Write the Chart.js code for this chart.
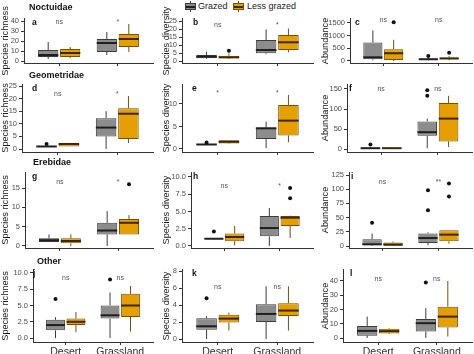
<!DOCTYPE html>
<html>
<head>
<meta charset="utf-8">
<script src="https://cdn.jsdelivr.net/npm/chart.js@4.4.1/dist/chart.umd.min.js"></script>
<style>
  html, body { margin: 0; padding: 0; background: #fff; }
  #wrap { position: relative; width: 474px; height: 354px; overflow: hidden; font-family: "Liberation Sans", Arial, sans-serif; }
  #wrap canvas { position: absolute; }
  .fam { position: absolute; font-weight: bold; font-size: 9px; line-height: 10px; color: #111; z-index: 2; }
  .ytitle { position: absolute; font-size: 9.2px; line-height: 11px; color: #1a1a1a; white-space: nowrap; transform: translate(-50%, -50%) rotate(-90deg); z-index: 2; }
  .key { position: absolute; top: 1px; width: 11px; height: 11px; }
  .key .wh { position: absolute; left: 5px; top: 0; width: 1px; height: 11px; }
  .key .bx { position: absolute; left: 0; top: 2px; width: 9px; height: 5px; border: 1px solid; }
  .key .md { position: absolute; left: 0; top: 2px; width: 9px; height: 2px; }
  .ktext { position: absolute; top: 1px; font-size: 9px; line-height: 11px; color: #222; }
</style>
</head>
<body>
<div id="wrap">
  <div class="key" style="left:185px"><div class="wh" style="background:#3c3c3c"></div><div class="bx" style="background:#8c8c8c;border-color:#3c3c3c"><div class="md" style="background:#1f1f1f"></div></div></div>
  <div class="ktext" style="left:198px">Grazed</div>
  <div class="key" style="left:233px"><div class="wh" style="background:#7a4f00"></div><div class="bx" style="background:#e69f00;border-color:#7a4f00"><div class="md" style="background:#3d2700"></div></div></div>
  <div class="ktext" style="left:247px">Less grazed</div>
</div>
<script>
const sites = ['Desert', 'Grassland'];
const groups = ['Grazed', 'Less grazed'];
const families = ['Noctuidae', 'Geometridae', 'Erebidae', 'Other'];
const measures = ['Species richness', 'Species diversity', 'Abundance'];
const letters = ['a', 'b', 'c', 'd', 'e', 'f', 'g', 'h', 'i', 'j', 'k', 'l'];

// box stats per site: [whisker low, Q1, median, Q3, whisker high]
const aG = [[2, 4, 6, 11, 19], [6, 9, 18, 22, 29]];
const aL = [[3, 4, 8, 12, 14], [9, 14, 22, 27, 37]];
const aOutG = [[], []];
const aOutL = [[], []];

const bG = [[1.2, 1.7, 2.7, 3.7, 5.8], [4.2, 4.8, 6.9, 13.1, 19.8]];
const bL = [[1.2, 1.7, 2.3, 3.3, 4.8], [5.4, 6.9, 11.7, 16.2, 20.4]];
const bOutG = [[], []];
const bOutL = [[6.4], []];

const cG = [[27, 66, 146, 730, 1208], [20, 50, 70, 90, 140]];
const cL = [[0, 40, 305, 465, 837], [30, 70, 100, 135, 200]];
const cOutG = [[], [200]];
const cOutL = [[1527], [330]];

const dG = [[1, 1, 1, 1, 1], [0, 5, 8.5, 12.2, 15]];
const dL = [[1, 1, 2, 2, 2], [2.4, 4, 14, 16.2, 21]];
const dOutG = [[2], []];
const dOutL = [[], []];

const eG = [[1, 1, 1, 1, 1], [0.2, 2.2, 4.6, 4.7, 6.1]];
const eL = [[1.1, 1.2, 1.6, 1.95, 1.95], [1.5, 3, 6.3, 9.8, 12]];
const eOutG = [[1.45], []];
const eOutL = [[], []];

const fG = [[0, 1, 2, 3, 5], [2, 33, 42, 69, 76]];
const fL = [[0, 1, 2, 3, 5], [5, 19, 76, 115, 133]];
const fOutG = [[11], [133, 147]];
const fOutL = [[], []];

const gG = [[1, 1, 1.5, 2, 3], [0, 3, 4, 6, 9]];
const gL = [[0, 0.7, 1.3, 2, 3], [3, 3, 6, 7, 8]];
const gOutG = [[], []];
const gOutL = [[], [16]];

const hG = [[1.05, 1.05, 1.05, 1.05, 1.05], [0, 1.4, 2.6, 4.35, 5.5]];
const hL = [[0.1, 0.7, 1.3, 1.8, 2.9], [1.15, 2.9, 4.1, 4.35, 4.4]];
const hOutG = [[2.1], []];
const hOutL = [[], [6.9, 8.4]];

const iG = [[0, 1.2, 3, 12, 22], [1.2, 5.3, 14, 22, 24]];
const iL = [[0, 0.5, 2.5, 6, 8], [4, 8.3, 20, 27.7, 28]];
const iOutG = [[41], [63, 98]];
const iOutL = [[], [87, 110]];

const jG = [[0, 1.2, 2, 2.8, 3.2], [0, 3, 3.5, 5, 7]];
const jL = [[0.9, 2, 2.5, 3, 4], [1, 3.25, 5, 6.8, 8]];
const jOutG = [[6], [9]];
const jOutL = [[], []];

const kG = [[0, 1.1, 1.5, 2.45, 2.7], [0, 2, 2.95, 4.1, 6.2]];
const kL = [[1, 1.95, 2.4, 2.85, 3.1], [1, 2.7, 3.35, 4.2, 6.2]];
const kOutG = [[4.8], []];
const kOutL = [[], []];

const lG = [[0, 1.6, 5, 8.5, 15], [0, 4.6, 10.4, 13.4, 21]];
const lL = [[2.8, 3.2, 4.8, 6.5, 7], [1, 7.4, 15, 22, 40]];
const lOutG = [[], [39]];
const lOutL = [[], []];

// significance labels (Desert, Grassland) and the value they sit at
const sigLabels = [['ns', '*'], ['ns', '*'], ['ns', 'ns'], ['ns', '*'], ['*', '*'], ['ns', 'ns'],
  ['ns', '*'], ['ns', '*'], ['ns', '**'], ['ns', 'ns'], ['ns', 'ns'], ['ns', 'ns']];
const sigY = [39, 22.5, 1619, 21.8, 12.4, 150, 16.5, 8.7, 112.7, 9.2, 6.1, 41.4];

// y axes
const yMin = [-2, -1.25, -79, -1.19, -0.67, -7.5, -0.52, -0.29, -3.5, -0.6, -0.35, -2.8];
const yMax = [43, 26.9, 1697, 25.8, 14.44, 162.5, 19.14, 10.72, 130.3, 10.6, 8.24, 48.4];
const yTicks = [
  [0, 10, 20, 30, 40], [0, 5, 10, 15, 20, 25], [0, 500, 1000, 1500],
  [0, 5, 10, 15, 20, 25], [0, 5, 10], [0, 50, 100, 150],
  [0, 5, 10, 15], [0, 2.5, 5, 7.5, 10], [0, 25, 50, 75, 100, 125],
  [0, 2.5, 5, 7.5, 10], [0, 2, 4, 6, 8], [0, 10, 20, 30, 40]
];
const yDec = [0, 0, 0, 0, 0, 0, 0, 1, 0, 1, 0, 0];

const panelStats = [
  [aG, aL, aOutG, aOutL], [bG, bL, bOutG, bOutL], [cG, cL, cOutG, cOutL],
  [dG, dL, dOutG, dOutL], [eG, eL, eOutG, eOutL], [fG, fL, fOutG, fOutL],
  [gG, gL, gOutG, gOutL], [hG, hL, hOutG, hOutL], [iG, iL, iOutG, iOutL],
  [jG, jL, jOutG, jOutL], [kG, kL, kOutG, kOutL], [lG, lL, lOutG, lOutL]
];

// layout
const FONT = '"Liberation Sans", Arial, sans-serif';
const AXIS = '#333333';
const PAD = 8;
const cols = [{ left: -1, right: 153 }, { left: 160, right: 313 }, { left: 319, right: 472 }];
const rows = [{ top: 18, bottom: 63 }, { top: 84, bottom: 152 }, { top: 172, bottom: 248 }, { top: 269, bottom: 342 }];
const titleX = [5, 166, 325];
const axisX = [24, 182, 350, 22, 182, 347, 25, 191, 349, 33, 182, 343];
const letterDx = [8, 11, 5, 10, 10, 2, 7, 2, 2, 0, 10, 7];
const famPos = [{ left: 29, top: 2 }, { left: 29, top: 70 }, { left: 33, top: 157 }, { left: 37, top: 256 }];

const fills = ['#8c8c8c', '#e69f00'];
const lines = ['#3c3c3c', '#7a4f00'];
const medians = ['#1f1f1f', '#3d2700'];

const boxExtras = {
  id: 'boxExtras',
  beforeDatasetsDraw(chart) {
    const { ctx, scales: { y } } = chart;
    chart.data.datasets.forEach((ds, di) => {
      chart.getDatasetMeta(di).data.forEach((bar, k) => {
        const [lo, q1, , q3, hi] = ds.stats[k];
        ctx.save();
        ctx.strokeStyle = ds.borderColor;
        ctx.lineWidth = 1;
        ctx.beginPath();
        ctx.moveTo(bar.x, y.getPixelForValue(q3));
        ctx.lineTo(bar.x, y.getPixelForValue(hi));
        ctx.moveTo(bar.x, y.getPixelForValue(q1));
        ctx.lineTo(bar.x, y.getPixelForValue(lo));
        ctx.stroke();
        ctx.restore();
      });
    });
  },
  afterDatasetsDraw(chart, args, opts) {
    const { ctx, chartArea, scales: { x, y } } = chart;
    chart.data.datasets.forEach((ds, di) => {
      chart.getDatasetMeta(di).data.forEach((bar, k) => {
        const med = ds.stats[k][2];
        const half = bar.width / 2;
        const ym = y.getPixelForValue(med);
        ctx.save();
        ctx.strokeStyle = ds.medianColor;
        ctx.lineWidth = 2;
        ctx.beginPath();
        ctx.moveTo(bar.x - half, ym);
        ctx.lineTo(bar.x + half, ym);
        ctx.stroke();
        ctx.fillStyle = '#111';
        ds.outliers[k].forEach((v) => {
          ctx.beginPath();
          ctx.arc(bar.x, y.getPixelForValue(v), 2, 0, Math.PI * 2);
          ctx.fill();
        });
        ctx.restore();
      });
    });

    ctx.save();
    ctx.fillStyle = '#111';
    ctx.font = `bold 8.5px ${FONT}`;
    ctx.textAlign = 'left';
    ctx.textBaseline = 'middle';
    ctx.fillText(opts.letter, chartArea.left + opts.letterDx, chartArea.top + 4.5);

    ctx.fillStyle = '#555';
    ctx.font = `7px ${FONT}`;
    ctx.textAlign = 'center';
    opts.sig.forEach((label, k) => {
      ctx.fillText(label, x.getPixelForValue(k + 1), y.getPixelForValue(opts.sigY));
    });
    ctx.restore();
  }
};

const wrap = document.getElementById('wrap');

function addDiv(cls, text, left, top) {
  const div = document.createElement('div');
  div.className = cls;
  div.style.left = `${left}px`;
  div.style.top = `${top}px`;
  div.textContent = text;
  wrap.appendChild(div);
}

families.forEach((name, r) => addDiv('fam', name, famPos[r].left, famPos[r].top));

panelStats.forEach((panel, i) => {
  const r = Math.floor(i / 3);
  const c = i % 3;
  const col = cols[c];
  const row = rows[r];
  const bottomRow = r === rows.length - 1;
  const xH = bottomRow ? 16 : 3;

  addDiv('ytitle', measures[c], titleX[c], (row.top + row.bottom) / 2);

  const canvas = document.createElement('canvas');
  const w = col.right - col.left + 6;
  const h = row.bottom - row.top + xH + PAD * 2;
  canvas.width = w;
  canvas.height = h;
  canvas.style.width = `${w}px`;
  canvas.style.height = `${h}px`;
  canvas.style.left = `${col.left}px`;
  canvas.style.top = `${row.top - PAD}px`;
  wrap.appendChild(canvas);

  const [statsG, statsL, outG, outL] = panel;
  const makeSet = (g, stats, outs) => ({
    label: groups[g],
    data: sites.map((s, k) => ({ x: k + 1, y: [stats[k][1], stats[k][3]] })),
    backgroundColor: fills[g],
    borderColor: lines[g],
    borderWidth: 1,
    borderSkipped: false,
    medianColor: medians[g],
    stats,
    outliers: outs
  });

  const axisGrid = { display: true, drawOnChartArea: false, drawTicks: true, tickLength: 3, color: AXIS, offset: false };

  new Chart(canvas, {
    type: 'bar',
    data: { datasets: [makeSet(0, statsG, outG), makeSet(1, statsL, outL)] },
    options: {
      responsive: false,
      animation: false,
      events: [],
      layout: { padding: { top: PAD, bottom: PAD, left: 0, right: 6 } },
      datasets: { bar: { categoryPercentage: 0.75, barPercentage: 0.92 } },
      plugins: {
        legend: { display: false },
        tooltip: { enabled: false },
        boxExtras: { letter: letters[i], letterDx: letterDx[i], sig: sigLabels[i], sigY: sigY[i] }
      },
      scales: {
        x: {
          type: 'linear',
          min: 0.4,
          max: 2.6,
          offset: false,
          grid: axisGrid,
          border: { display: true, color: AXIS, width: 1 },
          afterBuildTicks: (s) => { s.ticks = sites.map((name, k) => ({ value: k + 1 })); },
          ticks: {
            display: bottomRow,
            autoSkip: false,
            maxRotation: 0,
            padding: 1,
            color: '#333',
            font: { size: 10.5, family: FONT },
            callback: (v) => sites[v - 1] || ''
          },
          afterFit: (s) => { s.height = xH; }
        },
        y: {
          min: yMin[i],
          max: yMax[i],
          grid: axisGrid,
          border: { display: true, color: AXIS, width: 1 },
          afterBuildTicks: (s) => { s.ticks = yTicks[i].map((v) => ({ value: v })); },
          ticks: {
            autoSkip: false,
            padding: 2,
            color: '#4d4d4d',
            font: { size: 7.5, family: FONT },
            callback: (v) => Number(v).toFixed(yDec[i])
          },
          afterFit: (s) => { s.width = axisX[i] - col.left; }
        }
      }
    },
    plugins: [boxExtras]
  });
});
</script>
</body>
</html>
